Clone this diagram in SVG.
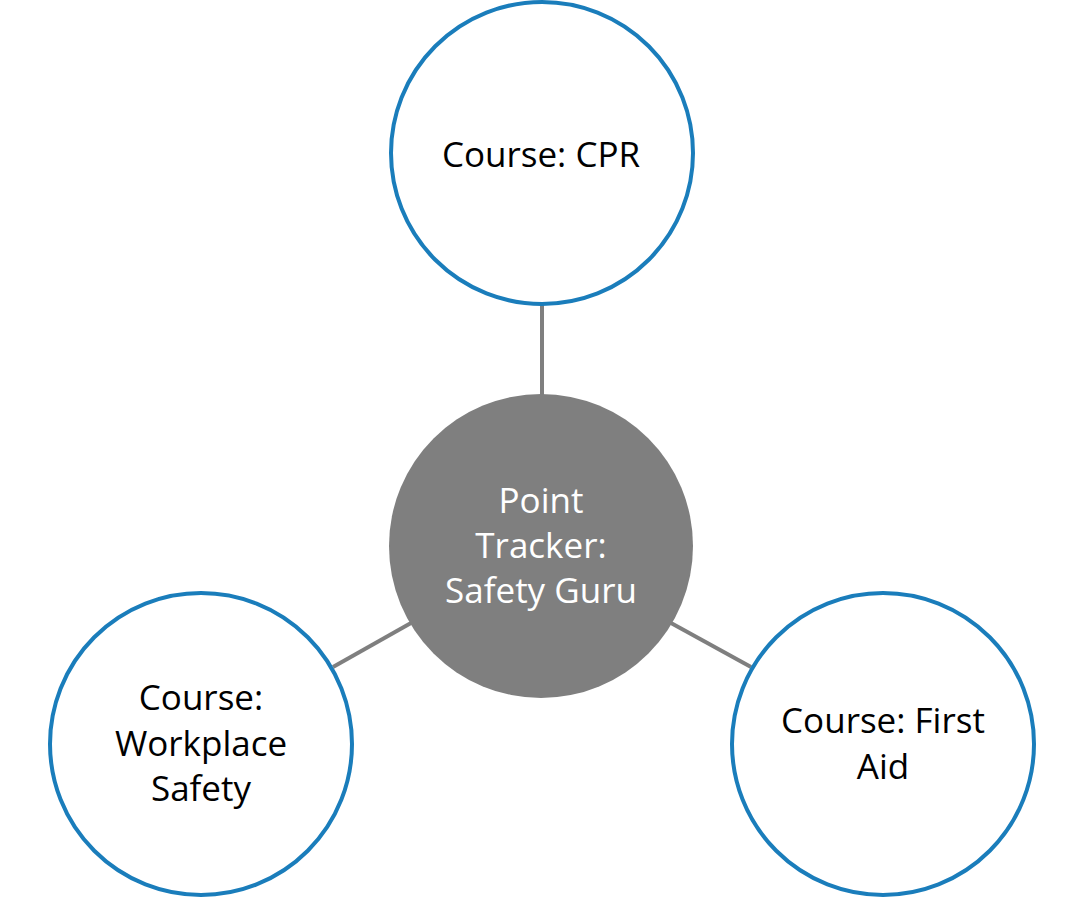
<svg xmlns="http://www.w3.org/2000/svg" width="1083" height="899" viewBox="0 0 1083 899">
<style>
.course{fill:#ffffff;stroke:#1a7dbb;stroke-width:4}
.hub{fill:#7f7f7f}
.conn{stroke:#7f7f7f;stroke-width:4;fill:none}
text{font-family:"Open Sans","Noto Sans",sans-serif;font-size:35px;text-anchor:middle}
.dark{fill:#000000}
.light{fill:#ffffff}
</style>
<rect width="1083" height="899" fill="#ffffff"/>
<g id="connectors">
<line class="conn" x1="542" y1="305" x2="542" y2="396"/>
<line class="conn" x1="333" y1="667" x2="411" y2="623"/>
<line class="conn" x1="671" y1="623" x2="751" y2="667"/>
</g>
<g id="hub">
<circle class="hub" cx="541" cy="546" r="152"/>
<text class="light" x="541" y="513">Point</text>
<text class="light" x="541" y="558">Tracker:</text>
<text class="light" x="541" y="603">Safety Guru</text>
</g>
<g id="cpr">
<circle class="course" cx="542" cy="153" r="151"/>
<text class="dark" x="541" y="167">Course: CPR</text>
</g>
<g id="workplace">
<circle class="course" cx="201" cy="744" r="151"/>
<text class="dark" x="201" y="710">Course:</text>
<text class="dark" x="201" y="756">Workplace</text>
<text class="dark" x="201" y="801">Safety</text>
</g>
<g id="firstaid">
<circle class="course" cx="883" cy="744" r="151"/>
<text class="dark" x="883" y="733">Course: First</text>
<text class="dark" x="883" y="779">Aid</text>
</g>
</svg>
